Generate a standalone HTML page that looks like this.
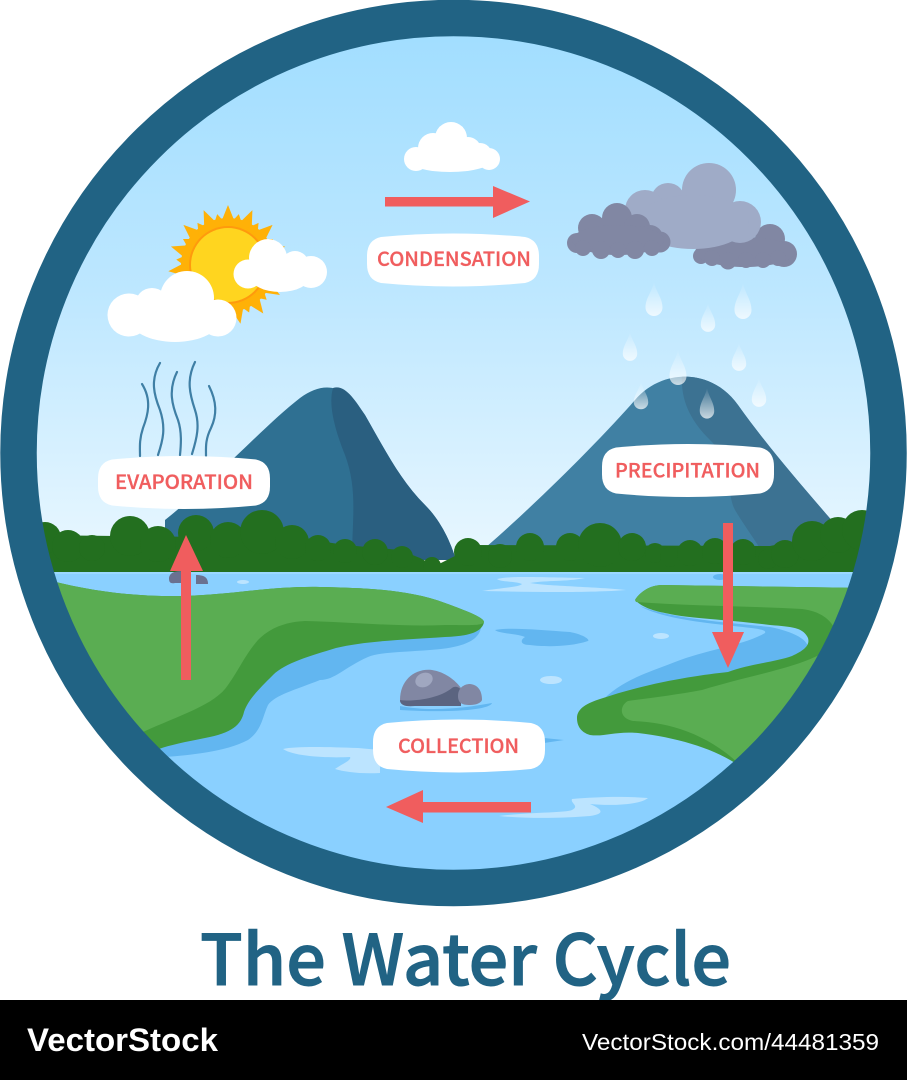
<!DOCTYPE html>
<html><head><meta charset="utf-8"><title>The Water Cycle</title>
<style>html,body{margin:0;padding:0;background:#fff}svg{display:block}</style></head>
<body>
<svg xmlns="http://www.w3.org/2000/svg" width="907" height="1080" viewBox="0 0 907 1080">
<defs>
<linearGradient id="sky" x1="0" y1="37" x2="0" y2="545" gradientUnits="userSpaceOnUse"><stop offset="0" stop-color="#a2deff"/><stop offset=".5" stop-color="#bde7ff"/><stop offset="1" stop-color="#e6f6ff"/></linearGradient>
<linearGradient id="dr" x1="0" y1="0" x2="0" y2="1"><stop offset="0" stop-color="#fff" stop-opacity=".02"/><stop offset="1" stop-color="#fff" stop-opacity=".72"/></linearGradient>
<clipPath id="c"><circle cx="453.5" cy="453.5" r="418"/></clipPath>
<clipPath id="mr"><path d="M485 548C540 500 600 440 635 400C660 370 710 366 738 405C770 450 810 495 840 530V560H485Z"/></clipPath>
<path id="d" fill="url(#dr)" d="M0 0C2 10 8.500 16 8.500 25.500A8.500 8.500 0 0 1-8.500 25.500C-8.500 16-2 10 0 0Z"/>
<path id="lb" fill="#fff" d="M14 5Q86-2 158 5Q172 8 172 24V32Q172 48 158 51Q86 58 14 51Q0 48 0 32V24Q0 8 14 5Z"/>
<path id="r1" d="M-8-40L0-60L8-40Z"/><path id="r2" d="M-7-40L0-52L7-40Z"/>
</defs>

<g clip-path="url(#c)">
<rect x="0" y="0" width="907" height="560" fill="url(#sky)"/>
<!-- mountains -->
<path fill="#2f7092" d="M165 520C215 480 265 425 300 398C325 380 345 385 365 415C385 450 400 480 425 505C440 520 450 540 456 560H165Z"/>
<path fill="#2a5f80" d="M333 388C345 384 355 400 365 415C385 450 400 480 425 505C440 520 450 540 456 560H352C352 520 358 490 345 455C335 430 328 405 333 388Z"/>
<path fill="#4080a3" d="M485 548C540 500 600 440 635 400C660 370 710 366 738 405C770 450 810 495 840 530V560H485Z"/>
<path clip-path="url(#mr)" fill="#3c7292" d="M682 372C680 400 690 420 710 440C735 465 725 490 735 510C750 535 760 545 765 560H860V372Z"/>
<!-- trees -->
<g fill="#236f1f">
<path d="M30 535L300 538L345 545L400 550L420 558L435 566L455 556L470 545L770 546L800 540L870 525V575H30Z"/>
<circle cx="45" cy="538" r="16"/><circle cx="68" cy="546" r="16"/><circle cx="92" cy="548" r="13"/><circle cx="130" cy="536" r="20"/><circle cx="158" cy="544" r="18"/><circle cx="196" cy="533" r="18"/><circle cx="228" cy="540" r="18"/><circle cx="262" cy="532" r="22"/><circle cx="292" cy="542" r="17"/><circle cx="318" cy="548" r="13"/><circle cx="345" cy="551" r="12"/><circle cx="375" cy="552" r="13"/><circle cx="402" cy="557" r="11"/><circle cx="432" cy="566" r="9"/>
<circle cx="468" cy="552" r="14"/><circle cx="500" cy="556" r="12"/><circle cx="530" cy="547" r="14"/><circle cx="570" cy="547" r="14"/><circle cx="600" cy="545" r="22"/><circle cx="632" cy="547" r="14"/><circle cx="655" cy="553" r="10"/><circle cx="670" cy="557" r="10"/><circle cx="690" cy="553" r="13"/><circle cx="715" cy="551" r="13"/><circle cx="743" cy="552" r="13"/><circle cx="768" cy="559" r="10"/><circle cx="785" cy="554" r="14"/><circle cx="812" cy="541" r="20"/><circle cx="838" cy="535" r="18"/><circle cx="862" cy="530" r="20"/>
</g>
<!-- water -->
<rect x="0" y="572" width="907" height="320" fill="#8ad0ff"/>
<rect x="0" y="572" width="907" height="2" fill="#9bd8ff"/>
<!-- left bank -->
<path fill="#62b6f0" d="M481 628C478 642 460 648 430 650C405 652 380 652 368 657C345 667 335 680 320 680C295 690 275 695 268 705C262 718 262 730 248 740C225 752 190 755 165 757L150 735L300 630Z"/>
<path fill="#439a3c" d="M30 575C80 590 130 597 183 596C230 595 270 586 320 587C370 588 410 590 445 603C470 612 484 618 484 622C482 632 470 636 445 637C400 640 365 641 336 648C310 656 285 663 273 675C258 690 248 700 244 712C241 725 232 733 205 738C185 742 170 745 159 749L30 770Z"/>
<path fill="#5aad52" d="M30 575C80 590 130 597 183 596C230 595 270 586 320 587C370 588 410 590 445 603C470 612 484 618 484 622C482 626 470 625 445 625C400 627 350 622 305 621C285 622 270 628 258 640C245 655 240 668 228 685C215 705 180 715 143 732L30 760Z"/>
<!-- right bank -->
<path fill="#62b6f0" d="M640 606C670 618 720 622 770 627C795 632 808 640 808 648C800 665 780 665 740 680C700 690 640 705 600 703C620 680 650 672 675 662C705 650 745 645 765 633C768 628 745 628 700 622C670 618 650 612 640 606Z"/>
<path fill="#439a3c" d="M635 600C640 592 650 585 662 585L870 588V770H745C720 750 680 738 638 733C615 731 605 737 590 735C580 732 577 725 577 718C577 708 588 703 600 699C650 682 700 675 728 672C750 664 775 662 792 656C805 650 810 645 808 638C803 628 795 627 770 625C730 620 690 618 675 615C660 612 645 610 635 600Z"/>
<path fill="#5aad52" d="M635 600C640 592 650 585 662 585L870 588V640L836 632C832 620 820 611 802 609C750 606 690 606 636 602Z"/>
<path fill="#5aad52" d="M628 701C650 698 675 695 702 690C750 675 800 668 828 650L870 640V770H745C712 735 670 722 633 721C618 718 620 705 628 701Z"/>
<!-- highlights -->
<g fill="#bce4ff">
<path d="M497 579C510 576 530 577 585 578C565 582 548 580 530 583C545 586 600 587 626 590C590 593 530 592 482 591C500 588 520 587 522 584C515 581 500 582 497 579Z"/>
<path d="M283 749C295 746 330 747 358 748L380 750V773C360 774 345 772 335 769C342 764 352 760 350 757C330 758 295 757 283 749Z"/>
<path d="M572 799C595 797 625 796 648 798C640 805 610 806 590 804C604 810 604 814 590 816C565 818 530 819 499 816C530 812 565 813 572 810C580 806 570 803 572 799Z"/>
<ellipse cx="243" cy="582" rx="6" ry="2"/><ellipse cx="661" cy="636" rx="8" ry="3"/><ellipse cx="551" cy="680" rx="11" ry="4"/>
</g>
<g fill="#62b6f0">
<path d="M495 630C510 627 540 630 570 632C585 635 590 640 588 641C570 647 545 647 530 645C520 645 520 640 525 637C515 633 500 634 495 630Z"/>
<path d="M544 738L564 740L544 743Z"/>
<ellipse cx="720" cy="577" rx="7" ry="3"/>
<path d="M400 706C430 712 465 708 492 703C490 710 450 713 400 710Z"/>
</g>
<!-- rocks -->
<path fill="#8187a3" d="M400 700C400 680 415 668 432 670C445 672 455 680 461 688V706H408C402 705 400 703 400 700Z"/>
<path fill="#5b6480" d="M400 700C415 702 440 698 452 688C456 685 460 688 461 690V706H415C405 707 400 705 400 700Z"/>
<ellipse cx="424" cy="680" rx="9" ry="7" fill="#a0a7c0" transform="rotate(-25 424 680)"/>
<path fill="#8187a3" d="M458 696C458 688 464 684 470 684C479 685 482 692 482 700C481 703 476 705 470 705C462 705 458 703 458 696Z"/>
<path fill="#6a7190" d="M169 578C170 572 175 571 186 571V583H175C170 584 169 582 169 578Z"/>
<path fill="#6a7190" d="M196 575C205 575 208 578 208 584H196Z"/>
</g>

<!-- ring -->
<circle cx="453.500" cy="453" r="435" fill="none" stroke="#216384" stroke-width="36.500"/>

<!-- sun -->
<g transform="translate(228 265)" fill="#ffb107">
<circle r="47"/>
<use href="#r1"/><use href="#r2" transform="rotate(12)"/><use href="#r1" transform="rotate(24)"/><use href="#r2" transform="rotate(36)"/><use href="#r1" transform="rotate(48)"/><use href="#r2" transform="rotate(60)"/><use href="#r1" transform="rotate(72)"/><use href="#r2" transform="rotate(84)"/><use href="#r1" transform="rotate(96)"/><use href="#r2" transform="rotate(108)"/><use href="#r1" transform="rotate(120)"/><use href="#r2" transform="rotate(132)"/><use href="#r1" transform="rotate(144)"/><use href="#r2" transform="rotate(156)"/><use href="#r1" transform="rotate(168)"/><use href="#r2" transform="rotate(180)"/><use href="#r1" transform="rotate(192)"/><use href="#r2" transform="rotate(204)"/><use href="#r1" transform="rotate(216)"/><use href="#r2" transform="rotate(228)"/><use href="#r1" transform="rotate(240)"/><use href="#r2" transform="rotate(252)"/><use href="#r1" transform="rotate(264)"/><use href="#r2" transform="rotate(276)"/><use href="#r1" transform="rotate(288)"/><use href="#r2" transform="rotate(300)"/><use href="#r1" transform="rotate(312)"/><use href="#r2" transform="rotate(324)"/><use href="#r1" transform="rotate(336)"/><use href="#r2" transform="rotate(348)"/>
<circle r="39" fill="#ff9a0d"/><circle r="37" fill="#ffd51f"/>
</g>
<!-- white clouds -->
<g fill="#fff">
<circle cx="129" cy="315" r="21.500"/><circle cx="152" cy="305" r="17"/><circle cx="187" cy="298" r="27"/><circle cx="218" cy="318" r="18.500"/><ellipse cx="175" cy="318" rx="46" ry="24"/>
<circle cx="248" cy="274" r="14.500"/><circle cx="268" cy="258" r="19"/><circle cx="295" cy="265" r="14"/><circle cx="311" cy="272" r="16"/><ellipse cx="280" cy="276" rx="30" ry="16"/>
<circle cx="416" cy="159" r="12"/><circle cx="433" cy="148" r="15"/><circle cx="451" cy="138" r="16"/><circle cx="468" cy="150" r="13"/><circle cx="480" cy="155" r="12"/><circle cx="489" cy="159" r="11"/><ellipse cx="450" cy="160" rx="42" ry="12"/>
</g>
<!-- rain clouds -->
<g fill="#8187a3">
<circle cx="770" cy="239" r="15"/><circle cx="784" cy="254" r="13"/><circle cx="701" cy="256" r="8"/><ellipse cx="745" cy="252" rx="50" ry="15"/><circle cx="712" cy="258" r="8"/><circle cx="728" cy="261" r="8.500"/><circle cx="746" cy="260" r="8"/><circle cx="763" cy="260" r="8"/><circle cx="778" cy="258" r="8"/>
</g>
<g fill="#9fabc7">
<circle cx="709" cy="190" r="27"/><circle cx="668" cy="200" r="17"/><circle cx="645" cy="210" r="20"/><circle cx="740" cy="222" r="21"/><ellipse cx="693" cy="222" rx="56" ry="27"/>
</g>
<g fill="#8187a3">
<circle cx="617" cy="218" r="15"/><circle cx="592" cy="228" r="14"/><circle cx="637" cy="227" r="13"/><circle cx="650" cy="238" r="13"/><circle cx="577" cy="243" r="10"/><circle cx="660" cy="242" r="10.500"/><ellipse cx="618" cy="240" rx="46" ry="15"/>
<circle cx="583" cy="248" r="8"/><circle cx="601" cy="250" r="9"/><circle cx="618" cy="250" r="8"/><circle cx="635" cy="250" r="9"/><circle cx="652" cy="248" r="8"/>
</g>
<!-- drops -->
<use href="#d" transform="translate(654 282) scale(1 1)"/>
<use href="#d" transform="translate(708 303) scale(.85 .85)"/>
<use href="#d" transform="translate(743 283) scale(1 1.060)"/>
<use href="#d" transform="translate(630 332) scale(.85 .85)"/>
<use href="#d" transform="translate(678 350) scale(1 1.030)"/>
<use href="#d" transform="translate(739 343) scale(.85 .82)"/>
<use href="#d" transform="translate(641 382) scale(.85 .8)"/>
<use href="#d" transform="translate(707 388) scale(.85 .9)"/>
<use href="#d" transform="translate(759 378) scale(.85 .85)"/>
<!-- wisps -->
<g fill="none" stroke="#3f7fa5" stroke-width="2.200" stroke-linecap="round">
<path d="M142 384C152 400 148 415 143 428C139 440 140 448 140 456"/>
<path d="M160 363C150 380 154 395 160 410C166 428 163 440 158 455"/>
<path d="M177 372C168 390 172 405 178 420C182 432 181 445 180 455"/>
<path d="M195 362C186 380 190 395 195 410C200 425 197 438 192 454"/>
<path d="M209 386C217 402 217 415 211 428C205 440 206 448 206 456"/>
</g>
<!-- labels -->
<use href="#lb" x="98" y="454.500"/><use href="#lb" x="367" y="232"/><use href="#lb" x="602" y="442.500"/><use href="#lb" x="373" y="718"/>
<g font-family="'Noto Sans CJK JP','Liberation Sans',sans-serif" font-weight="500" font-size="19.500" fill="#f05d5e" stroke="#f05d5e" stroke-width=".3">
<text x="115" y="489" textLength="138" lengthAdjust="spacingAndGlyphs">EVAPORATION</text>
<text x="377" y="266" textLength="154" lengthAdjust="spacingAndGlyphs">CONDENSATION</text>
<text x="615" y="477.500" textLength="145" lengthAdjust="spacingAndGlyphs">PRECIPITATION</text>
<text x="398" y="753" textLength="121" lengthAdjust="spacingAndGlyphs">COLLECTION</text>
</g>
<!-- arrows -->
<g fill="#f05d5e">
<path d="M385 197H493V186L530 201.500L493 218V206.500H385Z"/>
<path d="M181 680V571H170L186 535L203 571H191V680Z"/>
<path d="M723 523H733V632H744L728 668L712 632H723Z"/>
<path d="M531 802H423V790L386 807L423 823V812.500H531Z"/>
</g>
<!-- title -->
<text x="200" y="985" font-family="'Noto Sans CJK JP','Liberation Sans',sans-serif" font-weight="500" font-size="70" fill="#216384" stroke="#216384" stroke-width="1" textLength="531" lengthAdjust="spacingAndGlyphs">The Water Cycle</text>
<!-- footer -->
<rect x="0" y="1000" width="907" height="80" fill="#000"/>
<text x="27" y="1051" font-family="'Liberation Sans',sans-serif" font-weight="700" font-size="32" fill="#fff" textLength="191" lengthAdjust="spacingAndGlyphs">VectorStock</text>
<text x="582" y="1050" font-family="'Liberation Sans',sans-serif" font-size="23" fill="#fff" textLength="297" lengthAdjust="spacingAndGlyphs">VectorStock.com/44481359</text>
</svg>
</body></html>
